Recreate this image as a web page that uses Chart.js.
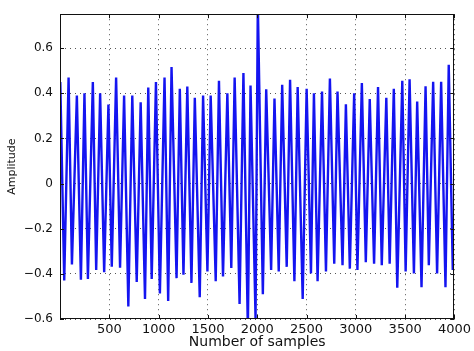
<!DOCTYPE html>
<html>
<head>
<meta charset="utf-8">
<script src="https://cdn.jsdelivr.net/npm/chart.js@4.4.0/dist/chart.umd.min.js"></script>
<style>
  html, body { margin: 0; padding: 0; background: #fff; }
</style>
</head>
<body>
<canvas id="signalChart" width="474" height="351"></canvas>
<script>
// values: local maxima and minima of the signal
const peakSample = [3, 87, 171, 248, 333, 407, 491, 569, 650, 733, 818, 895, 973, 1060, 1131, 1215,
    1291, 1367, 1451, 1528, 1612, 1697, 1771, 1860, 1932, 2006, 2091, 2175, 2253, 2333, 2410, 2501,
    2575, 2657, 2737, 2814, 2899, 2983, 3061, 3141, 3225, 3309, 3385, 3471, 3545, 3622, 3707, 3784,
    3865, 3942];
const peakValue = [0.45, 0.47, 0.39, 0.40, 0.45, 0.40, 0.35, 0.47, 0.39, 0.39, 0.36, 0.425, 0.45, 0.47, 0.516, 0.42,
    0.43, 0.38, 0.39, 0.39, 0.455, 0.40, 0.47, 0.49, 0.434, 0.80, 0.417, 0.377, 0.437, 0.46, 0.427, 0.42,
    0.40, 0.408, 0.465, 0.408, 0.351, 0.40, 0.445, 0.374, 0.427, 0.38, 0.42, 0.455, 0.462, 0.363, 0.431, 0.451,
    0.451, 0.526];
const troughSample = [43, 121, 212, 283, 367, 448, 525, 609, 693, 778, 862, 930, 1013, 1097, 1182, 1252,
    1333, 1417, 1495, 1579, 1653, 1737, 1821, 1905, 1983, 2057, 2141, 2218, 2299, 2377, 2461, 2545,
    2612, 2697, 2781, 2865, 2939, 3016, 3101, 3185, 3263, 3343, 3420, 3505, 3589, 3666, 3740, 3824,
    3909, 3983];
const troughValue = [-0.429, -0.358, -0.426, -0.423, -0.383, -0.393, -0.369, -0.373, -0.544, -0.436, -0.511, -0.423, -0.487, -0.52, -0.419, -0.404,
    -0.44, -0.504, -0.39, -0.433, -0.412, -0.374, -0.533, -0.65, -0.60, -0.49, -0.383, -0.39, -0.369, -0.433, -0.511, -0.398,
    -0.433, -0.39, -0.355, -0.362, -0.377, -0.383, -0.348, -0.355, -0.362, -0.355, -0.462, -0.39, -0.398, -0.459, -0.362, -0.398,
    -0.459, -0.383];

const xTicks = [500, 1000, 1500, 2000, 2500, 3000, 3500, 4000];
const yTicks = [-0.6, -0.4, -0.2, 0, 0.2, 0.4, 0.6];

const points = peakSample.map((s, i) => ({ x: s, y: peakValue[i] }))
    .concat(troughSample.map((s, i) => ({ x: s, y: troughValue[i] })))
    .sort((a, b) => a.x - b.x);

// matlab style box with inward ticks
const boxPlugin = {
    id: 'box',
    afterDraw(chart) {
        const { ctx, chartArea: a, scales } = chart;
        ctx.save();
        ctx.strokeStyle = '#111';
        ctx.lineWidth = 1;
        ctx.strokeRect(Math.round(a.left) + 0.5, Math.round(a.top) + 0.5,
            Math.round(a.width) - 1, Math.round(a.height) - 1);
        ctx.beginPath();
        scales.x.ticks.forEach(t => {
            const px = Math.round(scales.x.getPixelForValue(t.value)) + 0.5;
            ctx.moveTo(px, a.bottom); ctx.lineTo(px, a.bottom - 4);
            ctx.moveTo(px, a.top); ctx.lineTo(px, a.top + 4);
        });
        scales.y.ticks.forEach(t => {
            const py = Math.round(scales.y.getPixelForValue(t.value)) + 0.5;
            ctx.moveTo(a.left, py); ctx.lineTo(a.left + 4, py);
            ctx.moveTo(a.right, py); ctx.lineTo(a.right - 4, py);
        });
        ctx.stroke();
        ctx.restore();
    }
};

const font = 'DejaVu Sans';

new Chart(document.getElementById('signalChart'), {
    type: 'scatter',
    data: {
        datasets: [{
            data: points,
            showLine: true,
            borderColor: '#1414f0',
            borderWidth: 2.4,
            pointRadius: 0,
            tension: 0
        }]
    },
    options: {
        responsive: false,
        animation: false,
        layout: { padding: { top: 2, right: 18, left: 0, bottom: 0 } },
        plugins: { legend: { display: false }, tooltip: { enabled: false } },
        scales: {
            x: {
                type: 'linear',
                min: 0,
                max: 4000,
                afterBuildTicks: s => { s.ticks = xTicks.map(v => ({ value: v })); },
                afterFit: s => { s.height = 32; },
                grid: { color: '#555', lineWidth: 1, drawTicks: false },
                border: { display: false, dash: [1, 4] },
                ticks: { color: '#111', font: { family: font, size: 13 }, padding: 3, maxRotation: 0,
                    callback: v => String(v) },
                title: { display: true, text: 'Number of samples', color: '#111',
                    font: { family: font, size: 14 }, padding: { top: 0, bottom: 0 } }
            },
            y: {
                min: -0.6,
                max: 0.75,
                afterBuildTicks: s => { s.ticks = yTicks.map(v => ({ value: v })); },
                afterFit: s => { s.width = 60; },
                grid: { color: '#555', lineWidth: 1, drawTicks: false },
                border: { display: false, dash: [1, 4] },
                ticks: { color: '#111', font: { family: font, size: 12 }, padding: 7,
                    callback: v => v === 0 ? '0' : v.toFixed(1).replace('-', '\u2212') },
                title: { display: true, text: 'Amplitude', color: '#111',
                    font: { family: font, size: 11 }, padding: { top: 6, bottom: 4 } }
            }
        }
    },
    plugins: [boxPlugin]
});
</script>
</body>
</html>
